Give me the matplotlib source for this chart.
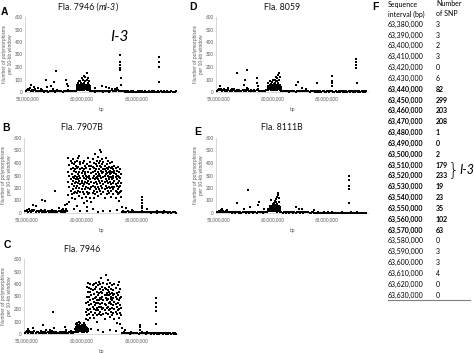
import numpy as np
import matplotlib
matplotlib.use("Agg")
import matplotlib.pyplot as plt

# ---------------- DATA ----------------
N = None
# 10-kb window positions (Mb) used for the dense baseline of low counts
base_x = np.round(np.arange(54.8, 68.65, 0.1), 1)

A_base = [10, 15,
          25, 18, 30, 12, 20, 8, 15, 22, 10, 6,
          12, 8, 5, 15, 10, 4, 8, 12, 6, 3,
          8, 5, 12, 6, 10, 4, 7, 14, 5, 8,
          6, 10, 4, 8, 12, 5, 9, 15, 6, 10,
          8, 5, 12, 6, 10, 15, 20, 25, 18, 22,
          20, 25, 18, 22, 15, 20, 25, 10, 8, 5,
          6, 10, 4, 8, 12, 5, 9, 6, 10, 4,
          8, 5, 12, 6, 10, 4, 7, 14, 5, 8,
          6, 10, 15, 20, 12, 8, 5, 9, 6, 4,
          5, 3, 6, 2, 4, 5, 3, 7, 4, 2,
          4, 6, 3, 5, 2, 6, 4, 3, 5, 2,
          3, 5, 2, 4, 6, 3, 5, 2, 4, 3,
          5, 3, 6, 4, 2, 5, 3, 4, 6, 2,
          4, 3, 5, 2, 4, 3, 5]
B_base = ([15, 20,
           25, 12, 30, 18, 8, 22, 14, 28, 10, 16,
           20, 8, 14, 25, 10, 18, 6, 22, 12, 15,
           10, 18, 7, 24, 12, 15, 8, 20, 11, 14,
           16, 9, 22, 12, 18, 8, 25, 14]
          + [N] * 49 +
          [10, 15, 8,
           12, 6, 14, 9, 5, 11, 7, 13, 6, 10,
           8, 12, 5, 10, 7, 15, 9, 6, 11, 5,
           9, 6, 12, 4, 8, 10, 5, 9, 7, 4,
           8, 5, 10, 6, 4, 9, 7, 5, 8, 3,
           6, 9, 4, 7, 5, 8, 4])
C_base = ([12, 18,
           22, 10, 28, 15, 8, 20, 12, 25, 9, 14,
           18, 7, 12, 22, 9, 16, 5, 20, 11, 13,
           9, 16, 6, 21, 11, 14, 7, 18, 10, 12,
           14, 8, 20, 11, 16, 7, 22, 12, 9, 15,
           10, 18, 8, 14]
          + [N] * 43 +
          [12, 8, 15,
           10, 5, 12, 8, 4, 10, 6, 12, 5, 9,
           7, 10, 4, 9, 6, 13, 8, 5, 10, 4,
           8, 5, 11, 3, 7, 9, 4, 8, 6, 3,
           7, 4, 9, 5, 3, 8, 6, 4, 7, 2,
           5, 8, 3, 6, 4, 7, 3])
D_base = [12, 18,
          22, 15, 28, 10, 18, 25, 12, 20, 8, 15,
          10, 18, 6, 14, 22, 8, 12, 16, 9, 20,
          12, 6, 15, 10, 18, 8, 14, 25, 10, 12,
          15, 8, 12, 20, 10, 14, 22, 9, 12, 8,
          10, 6, 12, 8, 15, 18, 22, 25, 20, 24,
          22, 26, 20, 24, 18, 22, 25, 15, 10, 6,
          8, 5, 10, 6, 12, 4, 8, 6, 10, 5,
          7, 4, 9, 6, 10, 5, 8, 12, 6, 9,
          5, 8, 6, 10, 4, 7, 5, 9, 6, 4,
          6, 3, 7, 4, 5, 3, 6, 8, 4, 3,
          5, 7, 4, 10, 12, 6, 4, 3, 5, 2,
          4, 6, 3, 5, 7, 4, 6, 3, 5, 4,
          6, 4, 7, 5, 3, 6, 4, 5, 7, 3,
          5, 4, 6, 3, 5, 4, 6]
E_base = [8, 12,
          18, 10, 22, 8, 15, 6, 12, 18, 8, 5,
          10, 6, 4, 12, 8, 3, 6, 10, 5, 3,
          6, 4, 10, 5, 8, 3, 6, 12, 4, 7,
          5, 8, 3, 6, 10, 4, 8, 12, 5, 8,
          6, 4, 10, 5, 8, 12, 18, 22, 15, 20,
          18, 22, 15, 20, 12, 18, 22, 8, 6, 4,
          5, 8, 3, 6, 10, 4, 7, 5, 8, 3,
          6, 4, 10, 5, 8, 3, 6, 12, 4, 7,
          5, 8, 12, 6, 4, 3, 5, 7, 4, 3,
          4, 2, 5, 3, 4, 3, 2, 5, 3, 2,
          3, 5, 2, 4, 2, 5, 3, 2, 4, 2,
          3, 4, 2, 3, 5, 2, 4, 2, 3, 2,
          4, 2, 5, 3, 2, 4, 2, 3, 5, 2,
          3, 2, 4, 2, 3, 2, 4]

# dense clusters: window position (Mb) -> counts
A_cluster = {59.5: [30, 45, 60, 20], 59.6: [25, 50, 70, 35, 15],
             59.7: [40, 55, 30, 85, 20], 59.8: [35, 60, 45, 25, 90],
             59.9: [50, 30, 65, 40, 20, 75], 60.0: [45, 25, 55, 35, 60, 110],
             60.1: [30, 50, 40, 65, 20, 95], 60.2: [55, 35, 45, 25, 70, 130],
             60.3: [40, 60, 30, 50, 85, 120], 60.4: [35, 55, 45, 25, 100, 150],
             60.5: [50, 30, 60, 40, 75, 110], 60.6: [25, 45, 35, 55, 90],
             60.7: [20, 35, 15, 50]}
D_cluster = {59.6: [30, 50, 20, 70], 59.7: [45, 25, 60, 35, 86],
             59.8: [55, 30, 40, 20, 65], 59.9: [35, 60, 45, 25, 80],
             60.0: [50, 30, 40, 60, 20, 95], 60.1: [40, 55, 25, 68, 35],
             60.2: [30, 50, 45, 20, 75, 100], 60.3: [55, 35, 25, 60, 90, 120],
             60.4: [40, 60, 30, 50, 113, 85], 60.5: [45, 25, 55, 35, 140, 70],
             60.6: [30, 50, 40, 60, 154, 95], 60.7: [35, 55, 25, 122, 45],
             60.8: [20, 40, 30]}
E_cluster = {59.6: [20, 35, 15], 59.7: [30, 45, 20, 55], 59.8: [40, 25, 50, 104],
             59.9: [30, 45, 20, 60], 60.0: [35, 50, 25, 70],
             60.1: [45, 30, 55, 20, 80], 60.2: [35, 50, 25, 65, 95],
             60.3: [40, 55, 30, 112, 90], 60.4: [50, 35, 25, 70, 130],
             60.5: [30, 45, 60, 159, 145], 60.6: [40, 25, 55, 118, 85],
             60.7: [30, 45, 20]}
B_cluster = {58.8: [440, 330, 250, 145], 58.9: [385, 210, 300, 90],
             59.0: [420, 270, 180, 350], 59.1: [310, 230, 400, 150, 120],
             59.2: [360, 260, 190, 430, 290], 59.3: [280, 340, 220, 160, 390],
             59.4: [410, 300, 240, 170, 350, 110], 59.5: [330, 270, 200, 380, 250],
             59.6: [290, 360, 215, 420, 160, 60], 59.7: [370, 240, 310, 180, 440, 270],
             59.8: [460, 330, 260, 200, 140, 300], 59.9: [350, 280, 230, 390, 170, 410],
             60.0: [320, 260, 190, 360, 120, 240], 60.1: [400, 300, 220, 170, 340],
             60.2: [280, 350, 230, 420, 150, 80], 60.3: [310, 250, 380, 190, 330],
             60.4: [360, 270, 210, 300, 130], 60.5: [390, 290, 240, 170, 100, 50],
             60.6: [440, 330, 260, 200, 150], 60.7: [300, 380, 230, 160, 280],
             60.8: [350, 270, 410, 190, 120], 60.9: [320, 250, 380, 210, 90],
             61.0: [430, 330, 280, 220, 160, 370], 61.1: [360, 300, 240, 180, 400, 120],
             61.2: [470, 340, 270, 210, 150], 61.3: [390, 310, 250, 190, 350, 280],
             61.4: [420, 290, 230, 170, 380], 61.5: [450, 330, 270, 210, 300, 140],
             61.6: [400, 350, 260, 190, 310], 61.7: [505, 380, 300, 240, 180, 420],
             61.8: [490, 340, 280, 220, 370, 150], 61.9: [430, 320, 260, 200, 390],
             62.0: [410, 350, 290, 230, 170, 330], 62.1: [380, 300, 250, 190, 350, 120],
             62.2: [440, 340, 270, 220, 310], 62.3: [390, 320, 260, 200, 360, 150],
             62.4: [420, 300, 240, 180, 350], 62.5: [370, 330, 270, 210, 160, 290],
             62.6: [400, 310, 250, 200, 340], 62.7: [360, 290, 230, 180, 320, 130],
             62.8: [410, 330, 270, 210, 370], 62.9: [350, 300, 240, 190, 150, 280],
             63.0: [380, 320, 260, 210, 340], 63.1: [360, 290, 230, 180, 310, 120],
             63.2: [340, 270, 220, 170, 300], 63.3: [370, 300, 240, 190, 150],
             63.4: [330, 260, 210, 160, 290, 100], 63.5: [350, 280, 220, 170],
             63.6: [310, 240, 180, 130]}
C_cluster = {59.4: [20, 40], 59.5: [30, 55, 15, 80], 59.6: [45, 25, 65, 90],
             59.7: [35, 60, 20, 50, 75], 59.8: [50, 30, 70, 40, 95],
             59.9: [25, 55, 40, 65, 85], 60.0: [45, 30, 60, 20, 75],
             60.1: [35, 55, 25, 70, 50], 60.2: [60, 40, 30, 85, 20],
             60.3: [30, 50, 70, 45], 60.4: [40, 25, 60, 120, 180, 250],
             60.5: [30, 50, 20, 200, 300, 150, 380], 60.6: [25, 40, 260, 340, 410, 190, 110],
             60.7: [300, 230, 370, 160], 60.8: [270, 340, 200, 130, 400],
             60.9: [310, 240, 360, 180], 61.0: [280, 350, 220, 150, 390],
             61.1: [320, 260, 200, 400, 130], 61.2: [360, 290, 230, 170],
             61.3: [300, 380, 250, 190, 410], 61.4: [340, 270, 210, 150, 100],
             61.5: [390, 310, 250, 190], 61.6: [420, 330, 270, 220, 160],
             61.7: [360, 290, 240, 180, 400], 61.8: [445, 340, 280, 220, 150],
             61.9: [380, 300, 250, 200, 330], 62.0: [410, 350, 270, 210, 160],
             62.1: [370, 310, 240, 190, 120], 62.2: [472, 360, 290, 230, 170],
             62.3: [400, 330, 270, 210, 310], 62.4: [430, 350, 280, 220, 160],
             62.5: [380, 310, 250, 190, 340], 62.6: [410, 320, 260, 200, 140],
             62.7: [360, 300, 240, 180, 280], 62.8: [390, 330, 270, 210, 150],
             62.9: [350, 290, 230, 170, 310], 63.0: [400, 320, 260, 200, 120],
             63.1: [370, 300, 240, 180], 63.2: [330, 280, 220, 160, 90],
             63.3: [390, 310, 250, 190], 63.4: [420, 340, 270, 200, 130],
             63.5: [360, 290, 230, 170, 80], 63.6: [300, 210, 150]}

# isolated windows (Mb, count)
A_extra = [(55.3, 53), (55.6, 40), (55.9, 30), (56.2, 25), (56.7, 100), (56.8, 40),
           (57.1, 45), (57.3, 27), (57.4, 80), (57.6, 165), (58.5, 100), (58.6, 67),
           (58.7, 45), (61.2, 30), (61.8, 45), (62.2, 40), (62.5, 35), (62.7, 27),
           (63.0, 25), (63.2, 35), (63.5, 293), (63.5, 240), (63.5, 220), (63.5, 190),
           (63.5, 175), (63.55, 110), (63.55, 60), (67.1, 280), (67.1, 240),
           (67.1, 200), (67.1, 80)]
B_extra = [(55.6, 62), (55.8, 53), (56.4, 102), (56.7, 100), (57.55, 175), (57.9, 40),
           (58.3, 30), (58.5, 62), (58.6, 35), (58.7, 75), (59.3, 30), (59.9, 20),
           (60.5, 15), (61.0, 30), (61.5, 10), (62.0, 20), (62.6, 15), (63.2, 25),
           (63.7, 48), (64.1, 40), (64.6, 25), (65.5, 129), (65.5, 102), (65.5, 80),
           (65.5, 60), (65.55, 40), (66.0, 30), (66.9, 20), (67.5, 15)]
C_extra = [(55.15, 37), (55.6, 45), (56.5, 72), (56.8, 30), (57.1, 35), (57.4, 173),
           (57.5, 50), (58.5, 59), (58.6, 35), (59.0, 25), (60.9, 40), (61.5, 30),
           (62.0, 20), (62.6, 35), (63.1, 25), (63.7, 45), (64.0, 30), (64.5, 20),
           (65.3, 72), (65.3, 55), (65.35, 35), (66.0, 20), (66.8, 290), (66.8, 245),
           (66.8, 219), (66.8, 184), (66.82, 77)]
D_extra = [(55.15, 46), (55.9, 32), (56.2, 24), (56.67, 154), (57.3, 59), (57.4, 95),
           (57.65, 175), (57.6, 30), (58.5, 113), (58.5, 73), (58.6, 45), (62.1, 59),
           (62.3, 78), (62.7, 35), (63.1, 25), (64.1, 73), (65.45, 127), (65.45, 90),
           (65.45, 73), (65.5, 50), (67.7, 262), (67.7, 240), (67.7, 215),
           (67.7, 195), (67.75, 73)]
E_extra = [(55.3, 36), (55.75, 22), (56.67, 77), (57.3, 36), (57.67, 181), (57.9, 49),
           (58.6, 63), (58.7, 90), (59.2, 36), (62.1, 49), (62.4, 36), (62.7, 36),
           (63.8, 22), (67.0, 296), (67.0, 268), (67.0, 214), (67.0, 195), (67.0, 77)]

titles = {"A": [("Fla. 7946 (", "normal"), ("ml-3", "italic"), (")", "normal")],
          "B": [("Fla. 7907B", "normal")],
          "C": [("Fla. 7946", "normal")],
          "D": [("Fla. 8059", "normal")],
          "E": [("Fla. 8111B", "normal")]}

x_ticks = [55, 60, 65]
x_tick_labels = ["55,000,000", "60,000,000", "65,000,000"]
y_ticks = [0, 100, 200, 300, 400, 500, 600]
ylabel = "Number of polymorphisms\nper 10-kb window"

intervals = ["63,380,000", "63,390,000", "63,400,000", "63,410,000", "63,420,000",
             "63,430,000", "63,440,000", "63,450,000", "63,460,000", "63,470,000",
             "63,480,000", "63,490,000", "63,500,000", "63,510,000", "63,520,000",
             "63,530,000", "63,540,000", "63,550,000", "63,560,000", "63,570,000",
             "63,580,000", "63,590,000", "63,600,000", "63,610,000", "63,620,000",
             "63,630,000"]
snp_counts = [3, 3, 2, 3, 0, 6, 82, 299, 203, 208, 1, 0, 2, 179, 233, 19, 23, 35,
              102, 63, 0, 3, 3, 4, 0, 0]
bold_rows = list(range(6, 20))

# ---------------- FIGURE ----------------
W, H = 474, 353
fig = plt.figure(figsize=(W / 100, H / 100), dpi=100)
FONT = "Lato"
GRAY = "#595959"


def px_axes(l, t, r, b):
    return fig.add_axes([l / W, 1 - b / H, (r - l) / W, (b - t) / H])


def ftext(x, y, s, **kw):
    return fig.text(x / W, 1 - y / H, s, **kw)


def draw_panel(ax, base, cluster, extra):
    bx, by = [], []
    for x, y in zip(base_x, base):
        if y is not None:
            bx.append(x); by.append(y)
    ax.scatter(bx, by, s=4.0, marker="s", c="black", linewidths=0, clip_on=False, zorder=3)
    xs, ys = [], []
    for x, vals in cluster.items():
        for y in vals:
            xs.append(x); ys.append(y)
    for x, y in extra:
        xs.append(x); ys.append(y)
    ax.scatter(xs, ys, s=2.0, marker="s", c="black", linewidths=0, clip_on=False, zorder=3)
    ax.set_xlim(54.75, 68.8)
    ax.set_ylim(0, 600)
    ax.set_yticks(y_ticks)
    ax.set_xticks(x_ticks)
    ax.set_xticklabels(x_tick_labels)
    for s in ["top", "right"]:
        ax.spines[s].set_visible(False)
    for s in ["left", "bottom"]:
        ax.spines[s].set_color("#d0d0d0")
        ax.spines[s].set_linewidth(0.6)
    ax.tick_params(length=0, labelsize=3.3, colors=GRAY)
    ax.tick_params(axis="y", pad=1.5)
    ax.tick_params(axis="x", pad=3)
    for lab in ax.get_xticklabels() + ax.get_yticklabels():
        lab.set_family(FONT)
    ax.set_ylabel(ylabel, fontsize=3.5, color=GRAY, family=FONT, labelpad=1.5, linespacing=1.1)
    ax.set_xlabel("bp", fontsize=3.5, color=GRAY, family=FONT, labelpad=4)
    ax.patch.set_alpha(0)


panels = {
    "A": ((25, 17, 178, 92), A_base, A_cluster, A_extra),
    "B": ((24, 138, 178, 213), B_base, B_cluster, B_extra),
    "C": ((24, 259, 178, 334), C_base, C_cluster, C_extra),
    "D": ((216, 17, 368, 92), D_base, D_cluster, D_extra),
    "E": ((216, 138, 368, 213), E_base, E_cluster, E_extra),
}
for key, (box, base, cl, ex) in panels.items():
    ax = px_axes(*box)
    draw_panel(ax, base, cl, ex)

renderer = fig.canvas.get_renderer()


def rich_title(cx, cy, parts, size=6.3):
    widths = []
    for s, st in parts:
        t = fig.text(0, 0, s, fontsize=size, style=st, family=FONT)
        widths.append(t.get_window_extent(renderer).width)
        t.remove()
    x = cx - sum(widths) / 2
    for (s, st), w in zip(parts, widths):
        ftext(x, cy, s, fontsize=size, style=st, family=FONT, va="center", ha="left", color="#111111")
        x += w


title_pos = {"A": (88, 7), "B": (82, 128), "C": (82, 250), "D": (282, 7), "E": (282, 127)}
for key, (cx, cy) in title_pos.items():
    rich_title(cx, cy, titles[key])

letter_pos = {"A": (1, 12), "B": (2, 128), "C": (4, 245), "D": (189, 7), "E": (194, 132), "F": (372, 7)}
for key, (lx, ly) in letter_pos.items():
    ftext(lx, ly, key, fontsize=7.5, fontweight="bold", family="Liberation Sans", va="center", ha="left")

# big gene label in panel A
ftext(119, 37, "I-3", fontsize=11, style="italic", family=FONT, va="center", ha="center")

# ---------------- TABLE F ----------------
TS = 5.0
ftext(388, 4, "Sequence", fontsize=TS, family=FONT, va="center", ha="left")
ftext(388, 14, "interval (bp)", fontsize=TS, family=FONT, va="center", ha="left")
ftext(436, 4, "Number", fontsize=TS, family=FONT, va="center", ha="left")
ftext(436, 14, "of SNP", fontsize=TS, family=FONT, va="center", ha="left")
for k, (iv, n) in enumerate(zip(intervals, snp_counts)):
    y = 24.3 + 10.83 * k
    w = "bold" if k in bold_rows else "normal"
    ftext(388, y, iv, fontsize=TS, family=FONT, va="center", ha="left", fontweight=w)
    ftext(436, y, str(n), fontsize=TS, family=FONT, va="center", ha="left", fontweight=w)
fig.add_artist(plt.Line2D([388 / W, 470 / W], [1 - 299.5 / H, 1 - 299.5 / H],
                          color="#808080", lw=0.8))
ftext(448, 170, "}", fontsize=13, family="DejaVu Sans", va="center", ha="left", fontweight="light")
ftext(459, 170, "I-3", fontsize=9, style="italic", family=FONT, va="center", ha="left")

fig.savefig("out.png", dpi=100)
